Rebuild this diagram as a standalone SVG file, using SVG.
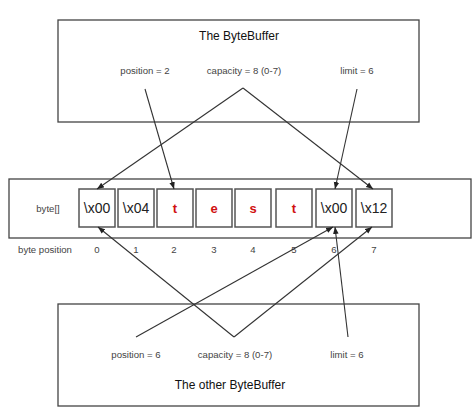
<svg xmlns="http://www.w3.org/2000/svg" width="474" height="418" viewBox="0 0 474 418">
<style>
text{font-family:"Liberation Sans",Arial,sans-serif;fill:#333;text-anchor:middle}
.box{fill:#fff;stroke:#444;stroke-width:1.3}
.cell{fill:#fff;stroke:#555;stroke-width:1.5}
.lbl{font-size:9.6px;fill:#444}
.title{font-size:12px;fill:#111}
.ct{font-size:14px;fill:#222}
.red{font-size:13px;fill:#d01010;font-weight:bold}
.con{stroke:#333;stroke-width:1.1;fill:none;marker-end:url(#ah)}
</style>
<defs>
<marker id="ah" viewBox="0 0 10 10" refX="10" refY="5" markerWidth="7" markerHeight="7" orient="auto" markerUnits="userSpaceOnUse">
<path d="M0,1 L10,5 L0,9 z" fill="#222"/>
</marker>
</defs>
<rect width="474" height="418" fill="#fff"/>
<g id="top-buffer">
<rect class="box" x="58" y="20" width="361" height="102"/>
<text class="title" x="239" y="40">The ByteBuffer</text>
<text class="lbl" x="145" y="74">position = 2</text>
<text class="lbl" x="244" y="74">capacity = 8 (0-7)</text>
<text class="lbl" x="357" y="74">limit = 6</text>
</g>
<g id="byte-array">
<rect class="box" x="9" y="179" width="462" height="59"/>
<text class="lbl" x="48" y="212">byte[]</text>
<text class="lbl" x="45" y="253">byte position</text>
</g>
<g id="cells">
<g id="cell0"><rect class="cell" x="79" y="189" width="36" height="38"/><text class="ct" x="97" y="213">\x00</text><text class="lbl" x="97" y="253">0</text></g>
<g id="cell1"><rect class="cell" x="118" y="189" width="36" height="38"/><text class="ct" x="136" y="213">\x04</text><text class="lbl" x="136" y="253">1</text></g>
<g id="cell2"><rect class="cell" x="157" y="189" width="36" height="38"/><text class="red" x="175" y="213">t</text><text class="lbl" x="174" y="253">2</text></g>
<g id="cell3"><rect class="cell" x="196" y="189" width="36" height="38"/><text class="red" x="214" y="213">e</text><text class="lbl" x="214" y="253">3</text></g>
<g id="cell4"><rect class="cell" x="235" y="189" width="36" height="38"/><text class="red" x="253" y="213">s</text><text class="lbl" x="253" y="253">4</text></g>
<g id="cell5"><rect class="cell" x="276" y="189" width="36" height="38"/><text class="red" x="294" y="213">t</text><text class="lbl" x="294" y="253">5</text></g>
<g id="cell6"><rect class="cell" x="316" y="189" width="36" height="38"/><text class="ct" x="334" y="213">\x00</text><text class="lbl" x="334" y="253">6</text></g>
<g id="cell7"><rect class="cell" x="356" y="189" width="36" height="38"/><text class="ct" x="374" y="213">\x12</text><text class="lbl" x="374" y="253">7</text></g>
</g>
<g id="bottom-buffer">
<rect class="box" x="58" y="304" width="361" height="102"/>
<text class="lbl" x="136" y="358">position = 6</text>
<text class="lbl" x="235" y="358">capacity = 8 (0-7)</text>
<text class="lbl" x="347" y="358">limit = 6</text>
<text class="title" x="230" y="389">The other ByteBuffer</text>
</g>
<g id="connectors">
<line class="con" x1="145" y1="89" x2="174" y2="189"/>
<line class="con" x1="243" y1="88" x2="97" y2="189"/>
<line class="con" x1="243" y1="88" x2="373" y2="189"/>
<line class="con" x1="357" y1="89" x2="335" y2="189"/>
<line class="con" x1="136" y1="337" x2="333" y2="227"/>
<line class="con" x1="234" y1="337" x2="98" y2="227"/>
<line class="con" x1="234" y1="337" x2="372" y2="227"/>
<line class="con" x1="348" y1="337" x2="335" y2="227"/>
</g>
</svg>
